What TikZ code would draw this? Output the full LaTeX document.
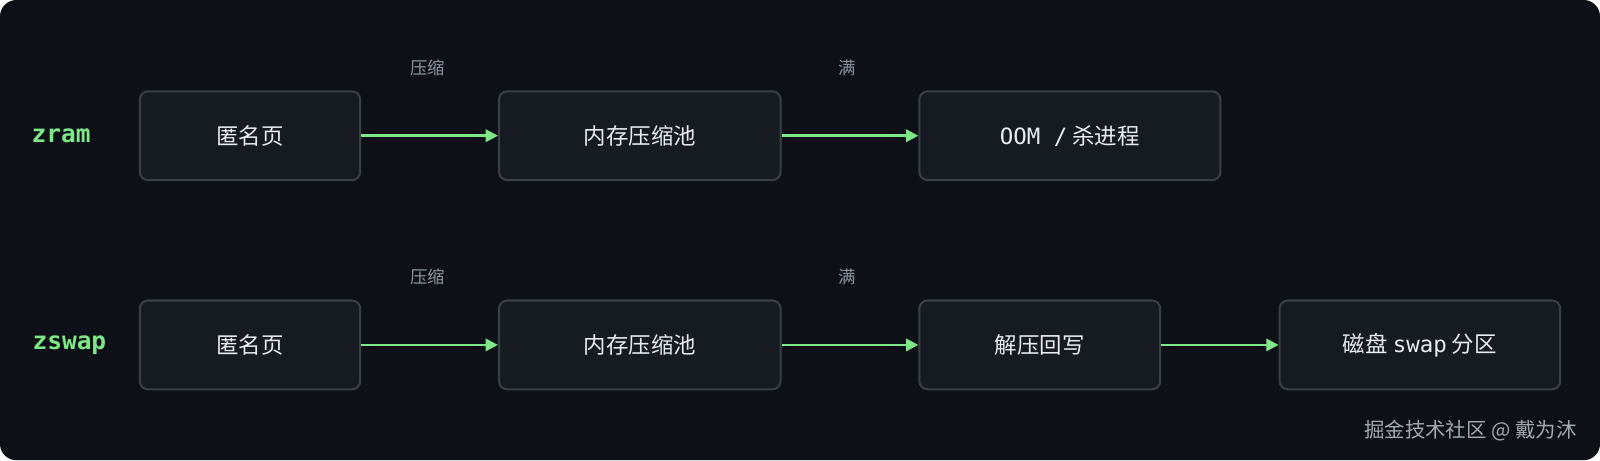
\documentclass[tikz,border=0pt]{standalone}
\usepackage{fontspec}
\setmainfont{Noto Sans CJK SC}
\setmonofont{DejaVu Sans Mono}
\usetikzlibrary{arrows.meta}
\definecolor{bgdark}{HTML}{0D1117}
\definecolor{boxfill}{HTML}{161B22}
\definecolor{boxline}{HTML}{3A3F46}
\definecolor{txtlight}{HTML}{E6EDF3}
\definecolor{flowgreen}{HTML}{7EE787}
\definecolor{notegray}{HTML}{8B949E}
\tikzset{
  stage/.style={draw=boxline,line width=1pt,fill=boxfill,rounded corners=4pt,
    text=txtlight,font=\fontsize{11}{13}\selectfont,minimum height=43.5pt,inner sep=0pt},
  flow/.style={-{Triangle[length=6pt,width=6pt]},draw=flowgreen,line width=1.2pt},
  note/.style={text=notegray,font=\fontsize{8.5}{10}\selectfont},
  tag/.style={text=flowgreen,font=\ttfamily\bfseries\fontsize{12}{14}\selectfont}
}
\begin{document}
\begin{tikzpicture}[x=0.5pt,y=-0.5pt]
  \fill[bgdark,rounded corners=8pt] (0,0) rectangle (1568,451);
  \useasboundingbox (0,0) rectangle (1568,451);

  % zram row
  \node[tag] (zram) at (60,133) {zram};
  \node[stage,minimum width=108pt] (za) at (245,133) {匿名页};
  \node[stage,minimum width=138pt] (zb) at (627,133) {内存压缩池};
  \node[stage,minimum width=147.5pt] (zc) at (1048.5,133) {{\ttfamily OOM /} 杀进程};
  \draw[flow] (za) -- (zb);
  \draw[flow] (zb) -- (zc);
  \node[note] at (419,67) {压缩};
  \node[note] at (830,67) {满};

  % zswap row
  \node[tag] (zswap) at (68,338) {zswap};
  \node[stage,minimum width=108pt] (sa) at (245,338) {匿名页};
  \node[stage,minimum width=138pt] (sb) at (627,338) {内存压缩池};
  \node[stage,minimum width=118pt] (sc) at (1019,338) {解压回写};
  \node[stage,minimum width=137.5pt] (sd) at (1391.5,338) {磁盘 {\ttfamily swap} 分区};
  \draw[flow] (sa) -- (sb);
  \draw[flow] (sb) -- (sc);
  \draw[flow] (sc) -- (sd);
  \node[note] at (419,271) {压缩};
  \node[note] at (830,271) {满};

  \node[text=notegray!80!white,font=\fontsize{10}{12}\selectfont,anchor=east] (mark) at (1552,422) {掘金技术社区 @ 戴为沐};
\end{tikzpicture}
\end{document}
